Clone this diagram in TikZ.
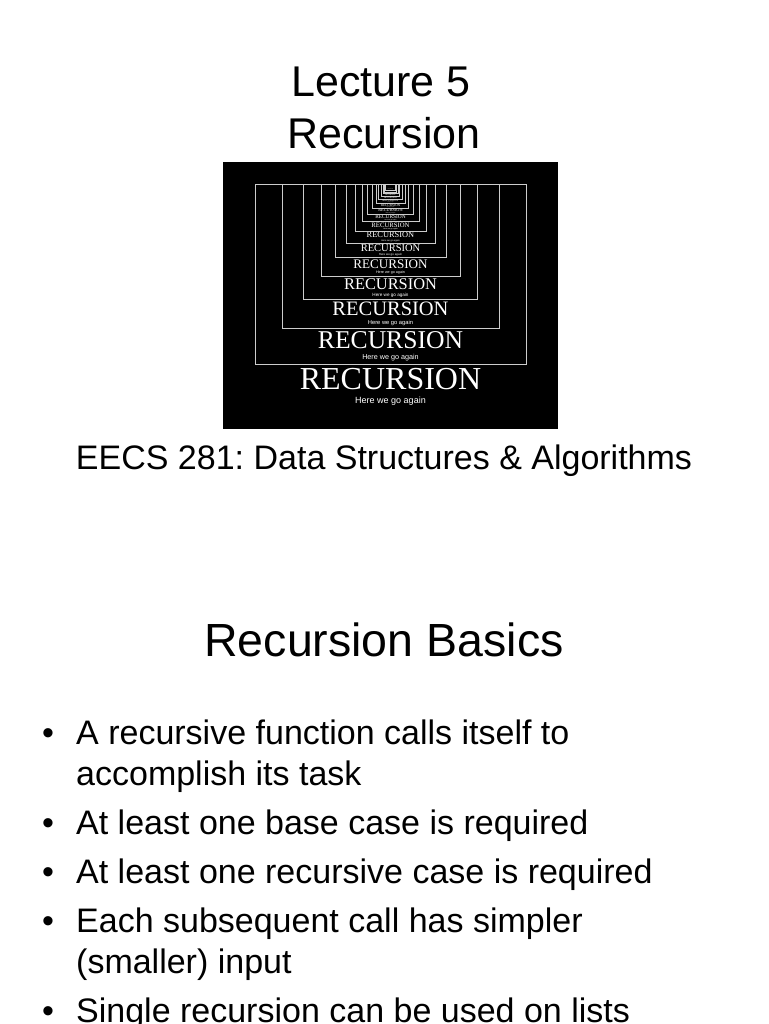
\documentclass[tikz,border=0pt]{standalone}
\usepackage{fontspec}
\setmainfont{Liberation Sans}
\newfontfamily\serifrec{Liberation Serif}
\frenchspacing
\begin{document}
\begin{tikzpicture}[x=1pt,y=-1pt,
  title/.style={font=\fontsize{43}{48}\selectfont, anchor=center},
  btxt/.style={font=\fontsize{34}{40}\selectfont, anchor=mid west, inner sep=0pt},
  bdot/.style={font=\fontsize{34}{40}\selectfont, anchor=mid west, inner sep=0pt},
  frame/.style={draw=white!80!black, line width=0.8pt}]
\useasboundingbox (0,0) rectangle (768,1024);
\fill[white] (0,0) rectangle (768,1024);
\node[title] (t1) at (381,82) {Lecture 5};
\node[title] (t2) at (384,133) {Recursion};
\fill[black] (223,162) rectangle (558,429);
\foreach \j in {0,...,16}{
  \pgfmathsetmacro{\t}{0.8^\j}
  \pgfmathsetmacro{\ty}{184+195*\t}
  \pgfmathsetmacro{\hy}{184+217*\t}
  \pgfmathsetmacro{\fs}{32*\t}
  \pgfmathsetmacro{\hs}{9*\t}
  \node[text=white, inner sep=0pt, font=\serifrec\fontsize{\fs}{\fs}\selectfont] (r\j) at (390.5,\ty) {RECURSION};
  \ifnum\j<12
  \node[text=white, inner sep=0pt, font=\fontsize{\hs}{\hs}\selectfont] (h\j) at (390.5,\hy) {Here we go again};
  \fi
  \ifnum\j>0
  \pgfmathsetmacro{\hw}{169.5*\t}
  \pgfmathsetmacro{\bh}{184+225*\t}
  \draw[frame] (390.5-\hw,184) rectangle (390.5+\hw,\bh);
  \fi
}
\node[font=\fontsize{34}{40}\selectfont] (sub) at (384,461) {EECS 281: Data Structures \& Algorithms};
\node[font=\fontsize{46.5}{52}\selectfont] (h2) at (384,640) {Recursion Basics};
\foreach \y/\b/\s in {736/1/{A recursive function calls itself to},777/0/{accomplish its task},826/1/{At least one base case is required},875/1/{At least one recursive case is required},924/1/{Each subsequent call has simpler},965/0/{(smaller) input},1014/1/{Single recursion can be used on lists}}{
  \node[btxt] at (76,\y+6) {\s};
  \ifnum\b=1 \node[bdot] at (42,\y+6) {•};\fi
}
\end{tikzpicture}
\end{document}
